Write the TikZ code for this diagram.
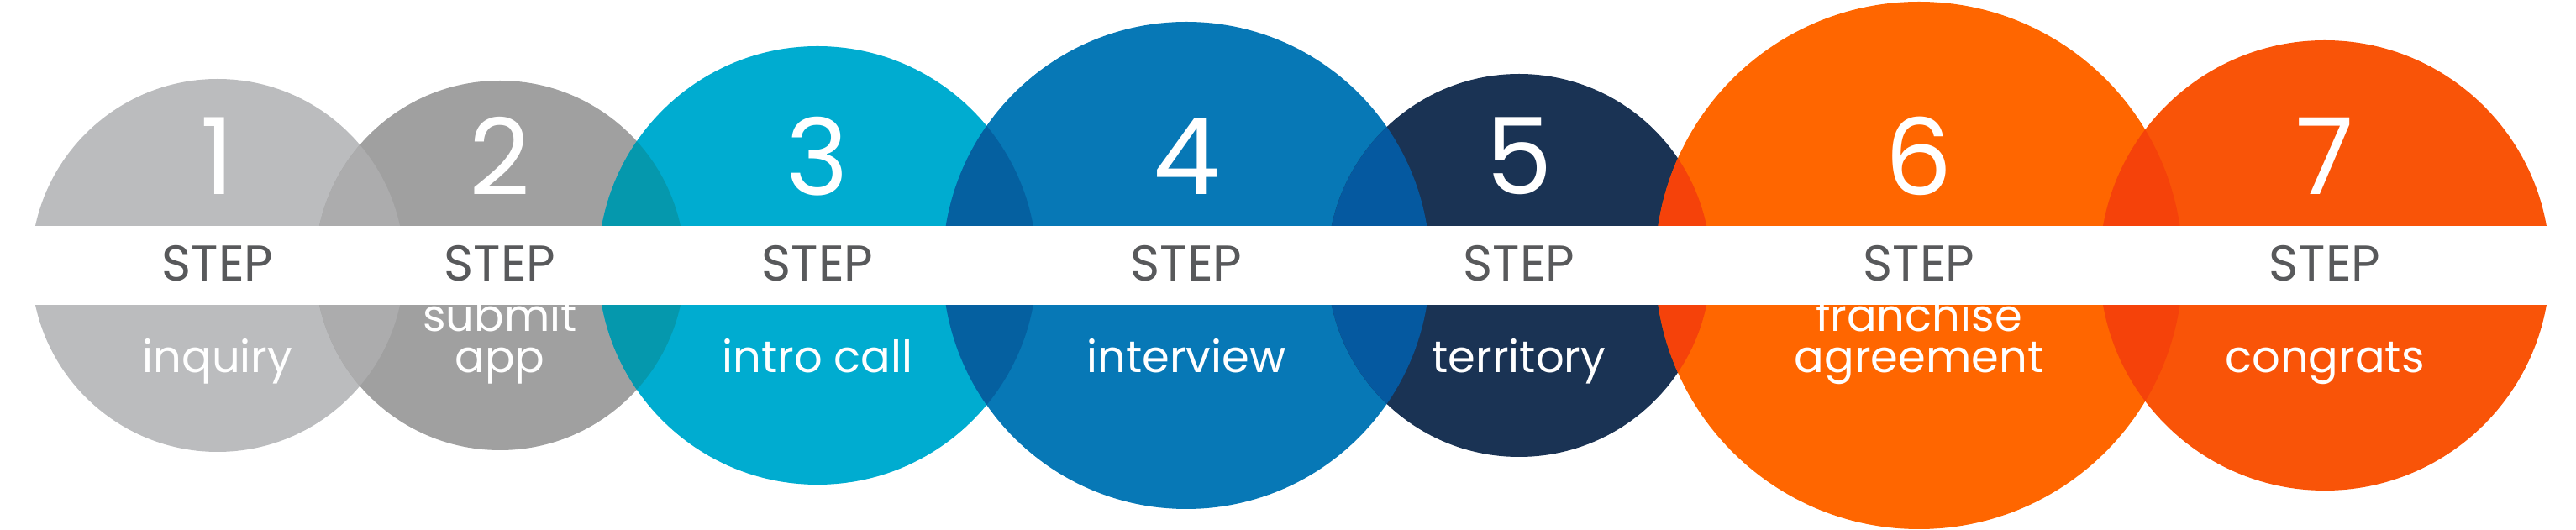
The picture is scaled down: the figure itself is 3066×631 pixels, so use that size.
\documentclass[tikz,border=0pt]{standalone}
\usepackage{fontspec}
\setmainfont{Poppins}
\usepackage{tikz}

\definecolor{greyA}{HTML}{BBBCBE}
\definecolor{greyB}{HTML}{A0A0A0}
\definecolor{cyanC}{HTML}{00ACD0}
\definecolor{blueD}{HTML}{0778B6}
\definecolor{navyE}{HTML}{1A3354}
\definecolor{orangeF}{HTML}{FF6600}
\definecolor{orangeG}{HTML}{F95408}
\definecolor{mixAB}{HTML}{ACACAD}
\definecolor{mixBC}{HTML}{0598AD}
\definecolor{mixCD}{HTML}{0560A0}
\definecolor{mixDE}{HTML}{0559A0}
\definecolor{mixEF}{HTML}{F5420A}
\definecolor{mixFG}{HTML}{F5420A}
\definecolor{steptext}{HTML}{58595B}

\begin{document}
\begin{tikzpicture}[x=0.01cm, y=-0.01cm]
    \tikzset{
        num/.style={text=white, font=\fontsize{36}{36}\selectfont},
        steplabel/.style={text=steptext, font=\fontsize{17}{17}\selectfont},
        what/.style={text=white, align=center, font=\fontsize{15}{14}\selectfont}
    }
    \useasboundingbox (0, 0) rectangle (3066, 631);

    % Draw the circles
    \foreach \cx/\r/\col in {259/222/greyA, 595/220/greyB, 973/261/cyanC,
        1412/290/blueD, 1808/228/navyE, 2284/314/orangeF, 2767/268/orangeG}
        \fill[\col] (\cx, 316) circle (\r);

    % Overlaps between neighbours
    \foreach \ax/\ar/\bx/\br/\col in {259/222/595/220/mixAB, 595/220/973/261/mixBC,
        973/261/1412/290/mixCD, 1412/290/1808/228/mixDE,
        1808/228/2284/314/mixEF, 2284/314/2767/268/mixFG}
    {
        \begin{scope}
            \clip (\ax, 316) circle (\ar);
            \fill[\col] (\bx, 316) circle (\br);
        \end{scope}
    }

    % The white band
    \fill[white] (0, 269) rectangle (3066, 363);

    % Numbers, step labels and texts
    \foreach \cx/\n/\txt [count=\i] in {259/1/inquiry, 595/2/{submit\\app}, 973/3/intro call,
        1412/4/interview, 1808/5/territory, 2284/6/{franchise\\agreement}, 2767/7/congrats}
    {
        \node[num] (num\i) at (\cx, 186) {\n};
        \node[steplabel] (step\i) at (\cx, 314) {STEP};
        \node[what, anchor=base] (what\i) at (\cx, 444) {\txt};
    }
\end{tikzpicture}
\end{document}
